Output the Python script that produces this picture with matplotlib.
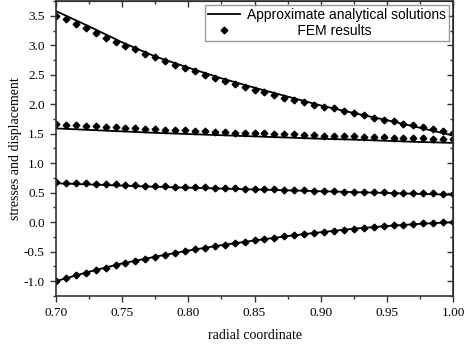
import numpy as np
import matplotlib
matplotlib.use("Agg")
import matplotlib.pyplot as plt
from matplotlib.ticker import MultipleLocator

plt.rcParams['font.family'] = 'Liberation Serif'
plt.rcParams['axes.unicode_minus'] = False

# analytical curves, read every 0.025
r_line = [0.700, 0.725, 0.750, 0.775, 0.800, 0.825, 0.850,
          0.875, 0.900, 0.925, 0.950, 0.975, 1.000]
line_a = [3.58, 3.32, 3.05, 2.81, 2.62, 2.44, 2.28, 2.13, 1.98, 1.85, 1.73, 1.60, 1.47]
line_b = [1.59, 1.565, 1.54, 1.515, 1.495, 1.475, 1.455, 1.435, 1.415, 1.40, 1.38, 1.36, 1.345]
line_c = [0.66, 0.64, 0.62, 0.60, 0.585, 0.57, 0.555, 0.54, 0.525, 0.51, 0.495, 0.48, 0.465]
line_d = [-1.00, -0.84, -0.70, -0.585, -0.48, -0.39, -0.31, -0.235, -0.17, -0.11, -0.065, -0.028, 0.0]

# FEM results, 41 nodes from 0.70 to 1.00
r_fem = np.linspace(0.70, 1.00, 41)
fem_a = [3.50, 3.44, 3.36, 3.29, 3.21, 3.13, 3.06, 2.99, 2.93, 2.86, 2.80,
         2.74, 2.67, 2.62, 2.57, 2.50, 2.45, 2.40, 2.35, 2.30, 2.25,
         2.21, 2.16, 2.11, 2.07, 2.03, 1.99, 1.96, 1.93, 1.88, 1.85,
         1.81, 1.77, 1.74, 1.71, 1.67, 1.64, 1.61, 1.58, 1.55, 1.52]
fem_b = [1.66, 1.65, 1.64, 1.63, 1.625, 1.615, 1.61, 1.60, 1.59, 1.585, 1.575,
         1.57, 1.56, 1.555, 1.55, 1.54, 1.535, 1.53, 1.52, 1.515, 1.51,
         1.505, 1.50, 1.495, 1.49, 1.48, 1.475, 1.47, 1.465, 1.46, 1.455,
         1.45, 1.445, 1.44, 1.435, 1.43, 1.425, 1.42, 1.415, 1.41, 1.405]
fem_c = [0.68, 0.67, 0.665, 0.66, 0.65, 0.645, 0.64, 0.635, 0.63, 0.62, 0.615,
         0.61, 0.605, 0.60, 0.595, 0.59, 0.585, 0.58, 0.575, 0.57, 0.565,
         0.56, 0.555, 0.55, 0.545, 0.54, 0.535, 0.53, 0.525, 0.52, 0.515,
         0.51, 0.51, 0.505, 0.50, 0.50, 0.495, 0.49, 0.49, 0.485, 0.48]
fem_d = [-1.00, -0.95, -0.90, -0.855, -0.81, -0.77, -0.73, -0.69, -0.655, -0.62, -0.585,
         -0.55, -0.52, -0.49, -0.46, -0.43, -0.405, -0.38, -0.355, -0.33, -0.305,
         -0.285, -0.26, -0.24, -0.22, -0.20, -0.18, -0.165, -0.145, -0.13, -0.11,
         -0.095, -0.08, -0.07, -0.055, -0.045, -0.03, -0.02, -0.012, -0.005, 0.0]

fig = plt.figure(figsize=(4.74, 3.51), dpi=100)
ax = fig.add_axes([0.118, 0.157, 0.838, 0.840])

for i, ys in enumerate([line_a, line_b, line_c, line_d]):
    ax.plot(r_line, ys, color='black', lw=1.3,
            label='Approximate analytical solutions' if i == 0 else None)
for i, ys in enumerate([fem_a, fem_b, fem_c, fem_d]):
    ax.plot(r_fem, ys, ls='none', marker='D', ms=3.4, color='black',
            label='             FEM results' if i == 0 else None)

ax.set_xlim(0.70, 1.00)
ax.set_ylim(-1.25, 3.75)
ax.xaxis.set_major_locator(MultipleLocator(0.05))
ax.xaxis.set_minor_locator(MultipleLocator(0.025))
ax.set_yticks(np.arange(-1.0, 3.51, 0.5))
ax.yaxis.set_minor_locator(MultipleLocator(0.25))
ax.set_xticklabels(['%.2f' % v for v in ax.get_xticks()])
ax.set_yticklabels(['%.1f' % v for v in ax.get_yticks()])
ax.tick_params(which='both', direction='out', labelsize=9.5, color='#333333', width=1.0)
ax.tick_params(which='major', length=4.5)
ax.tick_params(which='minor', length=2.5)

# mirrored ticks on top and right point inward
top = ax.secondary_xaxis('top')
top.xaxis.set_major_locator(MultipleLocator(0.05))
top.xaxis.set_minor_locator(MultipleLocator(0.025))
top.tick_params(which='both', direction='in', labeltop=False, color='#333333', width=1.0)
top.tick_params(which='major', length=4.5)
top.tick_params(which='minor', length=2.5)
right = ax.secondary_yaxis('right')
right.yaxis.set_major_locator(MultipleLocator(0.5))
right.yaxis.set_minor_locator(MultipleLocator(0.25))
right.tick_params(which='both', direction='in', labelright=False, color='#333333', width=1.0)
right.tick_params(which='major', length=4.5)
right.tick_params(which='minor', length=2.5)

for s in ax.spines.values():
    s.set_linewidth(1.2)
    s.set_color('#333333')

ax.set_xlabel('radial coordinate', fontsize=10, labelpad=7)
ax.set_ylabel('stresses and displacement', fontsize=10)
ax.yaxis.set_label_coords(-0.086, 0.5)

leg = ax.legend(loc='upper right', prop={'family': 'Liberation Sans', 'size': 10},
                frameon=True, fancybox=False, edgecolor='#808080',
                borderpad=0.2, labelspacing=0.15, handlelength=2.3,
                handletextpad=0.55, borderaxespad=0.3)
leg.get_frame().set_linewidth(1.0)

fig.savefig('out.png', dpi=100)
